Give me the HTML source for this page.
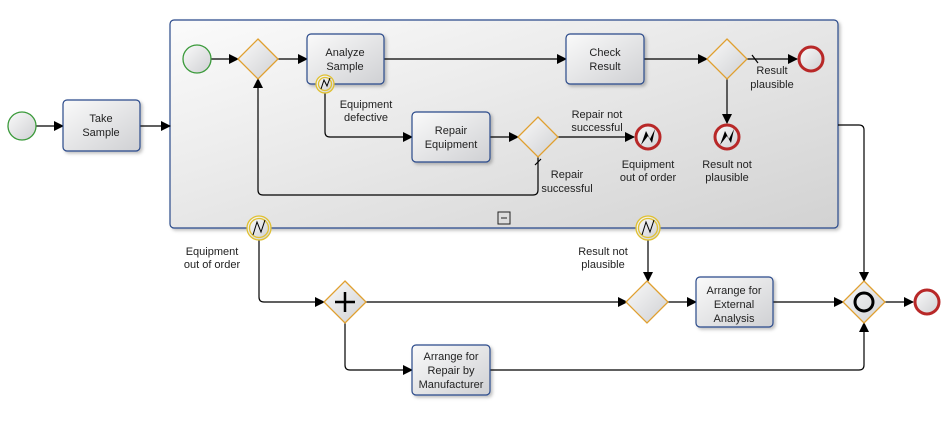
<!DOCTYPE html>
<html><head><meta charset="utf-8"><style>
html,body{margin:0;padding:0;background:#fff;width:945px;height:422px;overflow:hidden}
text{font-family:"Liberation Sans",sans-serif;font-size:11px;fill:#222;text-anchor:middle}
</style></head><body>
<svg width="945" height="422" viewBox="0 0 945 422" xmlns="http://www.w3.org/2000/svg">
<defs>
<linearGradient id="sp" x1="0" y1="0" x2="1" y2="1"><stop offset="0" stop-color="#fbfbfb"/><stop offset="1" stop-color="#d2d2d2"/></linearGradient>
<linearGradient id="tk" x1="0" y1="0" x2="1" y2="1"><stop offset="0" stop-color="#fafafa"/><stop offset="1" stop-color="#cfd0d3"/></linearGradient>
<marker id="a" markerWidth="10" markerHeight="10" refX="9" refY="5" orient="auto" markerUnits="userSpaceOnUse"><path d="M0,0 L10,5 L0,10 z" fill="#000"/></marker>
<filter id="sh" x="-10%" y="-10%" width="130%" height="130%"><feDropShadow dx="2" dy="2" stdDeviation="1.5" flood-color="#000" flood-opacity="0.25"/></filter>
</defs>
<!-- subprocess -->
<rect x="170" y="20" width="668" height="208" rx="4" fill="url(#sp)" stroke="#2a4a8a" stroke-width="1.2" filter="url(#sh)"/>
<rect x="498" y="212" width="12" height="12" fill="none" stroke="#222"/><line x1="501" y1="218" x2="507" y2="218" stroke="#222"/>
<g fill="none" stroke="#000" stroke-width="1.2">
<line x1="36" y1="126" x2="63" y2="126" marker-end="url(#a)"/>
<line x1="140" y1="126" x2="170" y2="126" marker-end="url(#a)"/>
<line x1="211" y1="59" x2="238" y2="59" marker-end="url(#a)"/>
<line x1="278" y1="59" x2="307" y2="59" marker-end="url(#a)"/>
<line x1="384" y1="59" x2="566" y2="59" marker-end="url(#a)"/>
<line x1="644" y1="59" x2="707" y2="59" marker-end="url(#a)"/>
<line x1="747" y1="59" x2="797" y2="59" marker-end="url(#a)"/>
<line x1="752" y1="55" x2="758" y2="63"/>
<line x1="727" y1="79" x2="727" y2="123" marker-end="url(#a)"/>
<path d="M325,93 V132 Q325,137 330,137 H412" marker-end="url(#a)"/>
<line x1="490" y1="137" x2="518" y2="137" marker-end="url(#a)"/>
<line x1="558" y1="137" x2="634" y2="137" marker-end="url(#a)"/>
<path d="M538,157 V190 Q538,195 533,195 H263 Q258,195 258,190 V79" marker-end="url(#a)"/>
<line x1="535" y1="165" x2="541" y2="159"/>
<path d="M838,125 H859 Q864,125 864,130 V281" marker-end="url(#a)"/>
<path d="M259,240 V297 Q259,302 264,302 H324" marker-end="url(#a)"/>
<line x1="366" y1="302" x2="627" y2="302" marker-end="url(#a)"/>
<line x1="648" y1="240" x2="648" y2="281" marker-end="url(#a)"/>
<line x1="668" y1="302" x2="696" y2="302" marker-end="url(#a)"/>
<line x1="773" y1="302" x2="843" y2="302" marker-end="url(#a)"/>
<line x1="885" y1="302" x2="913" y2="302" marker-end="url(#a)"/>
<path d="M345,323 V365 Q345,370 350,370 H412" marker-end="url(#a)"/>
<path d="M490,370 H859 Q864,370 864,365 V323" marker-end="url(#a)"/>
</g>
<!-- start events -->
<circle cx="22" cy="126" r="14" fill="url(#tk)" stroke="#3a9a3a" stroke-width="1.3"/>
<circle cx="197" cy="59" r="14" fill="url(#tk)" stroke="#3a9a3a" stroke-width="1.3"/>
<!-- tasks -->
<g fill="url(#tk)" stroke="#2a4a8a" stroke-width="1.2" filter="url(#sh)">
<rect x="63" y="100" width="77" height="51" rx="4"/>
<rect x="307" y="34" width="77" height="50" rx="4"/>
<rect x="566" y="34" width="78" height="50" rx="4"/>
<rect x="412" y="112" width="78" height="50" rx="4"/>
<rect x="696" y="277" width="77" height="50" rx="4"/>
<rect x="412" y="345" width="78" height="50" rx="4"/>
</g>
<text x="101" y="122">Take</text><text x="101" y="136">Sample</text>
<text x="345" y="56">Analyze</text><text x="345" y="70">Sample</text>
<text x="605" y="56">Check</text><text x="605" y="70">Result</text>
<text x="451" y="134">Repair</text><text x="451" y="148">Equipment</text>
<text x="734" y="294">Arrange for</text><text x="734" y="308">External</text><text x="734" y="322">Analysis</text>
<text x="451" y="360">Arrange for</text><text x="451" y="374">Repair by</text><text x="451" y="388">Manufacturer</text>
<!-- gateways -->
<g fill="url(#tk)" stroke="#e0a030" stroke-width="1.3">
<path d="M258,39 L278,59 L258,79 L238,59 z"/>
<path d="M727,39 L747,59 L727,79 L707,59 z"/>
<path d="M538,117 L558,137 L538,157 L518,137 z"/>
<path d="M345,281 L366,302 L345,323 L324,302 z"/>
<path d="M647,281 L668,302 L647,323 L626,302 z"/>
<path d="M864,281 L885,302 L864,323 L843,302 z"/>
</g>
<path d="M345,292 V312 M335,302 H355" stroke="#000" stroke-width="2.5"/>
<circle cx="864" cy="302" r="9" fill="none" stroke="#000" stroke-width="3"/>
<!-- end events -->
<g fill="url(#tk)" stroke="#b82828" stroke-width="3">
<circle cx="811" cy="59" r="12"/>
<circle cx="648" cy="137" r="12"/>
<circle cx="727" cy="137" r="12"/>
<circle cx="927" cy="302" r="12"/>
</g>
<path d="M641,145 L646,131 L650,139 L655,129 L652,143 L648,136 z" fill="#000"/>
<path d="M720,145 L725,131 L729,139 L734,129 L731,143 L727,136 z" fill="#000"/>
<!-- boundary events -->
<g fill="url(#tk)" stroke="#e0c030" stroke-width="1.3">
<circle cx="325" cy="84" r="9"/><circle cx="325" cy="84" r="6.5"/>
<circle cx="259" cy="228" r="12"/><circle cx="259" cy="228" r="9.5"/>
<circle cx="648" cy="228" r="12"/><circle cx="648" cy="228" r="9.5"/>
</g>
<g fill="none" stroke="#000" stroke-width="1">
<path d="M321,89 L324,80 L327,86 L330,78"/>
<path d="M253,235 L257,222 L261,232 L265,220"/>
<path d="M642,235 L646,222 L650,232 L654,220"/>
</g>
<!-- labels -->
<text x="366" y="108">Equipment</text><text x="366" y="121">defective</text>
<text x="597" y="118">Repair not</text><text x="597" y="131">successful</text>
<text x="648" y="168">Equipment</text><text x="648" y="181">out of order</text>
<text x="727" y="168">Result not</text><text x="727" y="181">plausible</text>
<text x="567" y="178">Repair</text><text x="567" y="192">successful</text>
<text x="772" y="74">Result</text><text x="772" y="88">plausible</text>
<text x="212" y="255">Equipment</text><text x="212" y="268">out of order</text>
<text x="603" y="255">Result not</text><text x="603" y="268">plausible</text>
</svg>
</body></html>
